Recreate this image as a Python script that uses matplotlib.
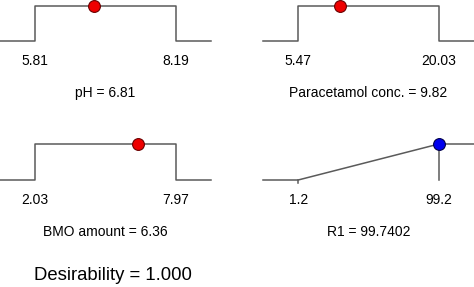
import matplotlib
matplotlib.use('Agg')
import matplotlib.pyplot as plt

plt.rcParams['font.family'] = ['Liberation Sans', 'DejaVu Sans']

# optimization plot data
names = ['pH', 'Paracetamol conc.', 'BMO amount', 'R1']
lows = [5.81, 5.47, 2.03, 1.2]
highs = [8.19, 20.03, 7.97, 99.2]
low_labels = ['5.81', '5.47', '2.03', '1.2']
high_labels = ['8.19', '20.03', '7.97', '99.2']
settings = [6.81, 9.82, 6.36, 99.7402]
setting_labels = ['6.81', '9.82', '6.36', '99.7402']
is_response = [False, False, False, True]
overall_desirability = 1.000

W, H = 474, 287
fig = plt.figure(figsize=(W / 100, H / 100), dpi=100)

# panel boxes in pixels: (left, y of d=1, y of d=0)
boxes = [(0, 6, 41), (263, 6, 41), (0, 144, 180), (263, 144, 180)]
line_col = '#5a5a5a'

for i in range(4):
    left, ytop, ybot = boxes[i]
    ax = fig.add_axes([left / W, 1 - ybot / H, 211 / W, (ybot - ytop) / H])
    lo, hi = lows[i], highs[i]
    span = hi - lo
    xmin, xmax = lo - 0.25 * span, hi + 0.25 * span

    if is_response[i]:
        ax.plot([xmin, lo, hi, xmax], [0, 0, 1, 1], color=line_col, lw=1.1,
                clip_on=False)
        ax.plot([hi, hi], [0, 1], color=line_col, lw=1.1, clip_on=False)
        ax.plot([lo, lo], [0, -0.09], color=line_col, lw=1.1, clip_on=False)
        dot_x = min(settings[i], hi)
        ax.plot(dot_x, 1, 'o', ms=8.5, mfc='#0000ee', mec='#00004a', mew=0.8,
                clip_on=False, zorder=5)
    else:
        ax.plot([xmin, lo, lo, hi, hi, xmax], [0, 0, 1, 1, 0, 0],
                color=line_col, lw=1.1, clip_on=False)
        ax.plot(settings[i], 1, 'o', ms=8.5, mfc='#ee0000', mec='#6a0000',
                mew=0.8, clip_on=False, zorder=5)

    ax.set_xlim(xmin, xmax)
    ax.set_ylim(0, 1)
    ax.set_xticks([lo, hi])
    ax.set_xticklabels([low_labels[i], high_labels[i]])
    ax.tick_params(axis='x', length=0, pad=9.5, labelsize=10)
    ax.set_yticks([])
    for s in ax.spines.values():
        s.set_visible(False)
    ax.patch.set_visible(False)

    ax.annotate(f'{names[i]} = {setting_labels[i]}', xy=(0.5, 0),
                xycoords='axes fraction', xytext=(0, -52),
                textcoords='offset pixels', ha='center', va='center',
                fontsize=10)

fig.text(113 / W, 1 - 275 / H, f'Desirability = {overall_desirability:.3f}',
         ha='center', va='center', fontsize=13.3)

fig.savefig('out.png', dpi=100)
